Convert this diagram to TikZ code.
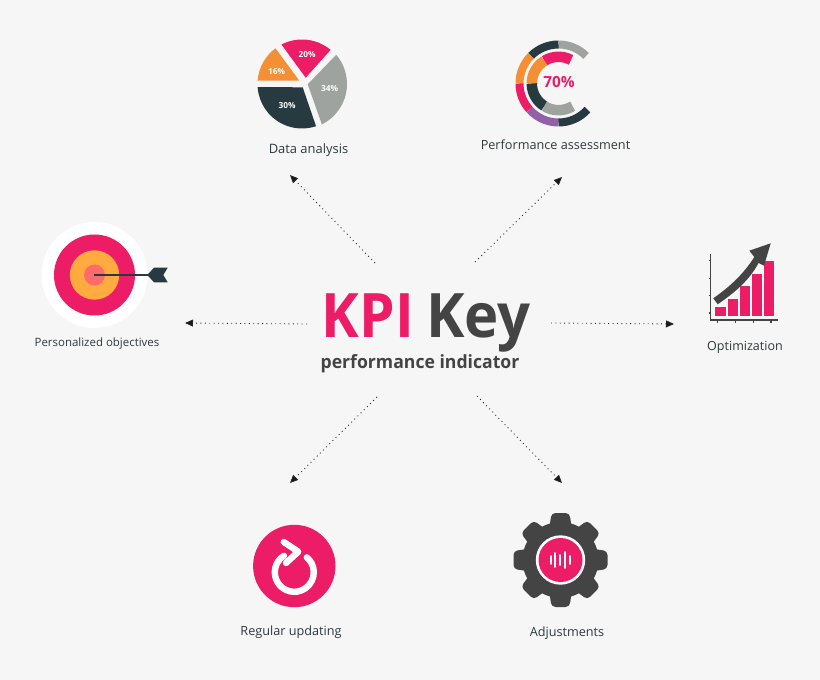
\documentclass[tikz,border=0pt]{standalone}
\usepackage{fontspec}
\setmainfont{Open Sans}
\usetikzlibrary{arrows.meta}
\definecolor{bgc}{HTML}{F6F6F6}
\definecolor{pinkc}{HTML}{ED1C67}
\definecolor{darkc}{HTML}{263A40}
\definecolor{orangec}{HTML}{F58F35}
\definecolor{greyc}{HTML}{9FA3A0}
\definecolor{purplec}{HTML}{9160A8}
\definecolor{goldc}{HTML}{FFAB40}
\definecolor{coralc}{HTML}{FF6B6B}
\definecolor{textc}{HTML}{444444}
\definecolor{labelc}{HTML}{2E3A3E}
\newcommand{\pxfont}[1]{\fontsize{#1}{#1}\selectfont}
\newcommand{\wedgeshape}[5]{% colour, apex, a1, a2 (visual, ccw), radius about pie centre
  \fill[#1] (#2) -- ([shift={(0-#3:#5)}]302,84) arc[start angle=0-#3,end angle=0-#4,radius=#5] -- cycle;}
\newcommand{\ringseg}[5]{% colour, a1, a2, r mid, width
  \draw[#1,line width=#5*.75pt] ([shift={(0-#2:#4)}]558.5,83.5) arc[start angle=0-#2,end angle=0-#3,radius=#4];}
\tikzset{
  flow/.style={draw=black!85,line width=.65pt,dash pattern=on .7pt off 2.6pt,
    -{Triangle[length=6pt,width=5.2pt,fill=black!90]}},
  iconlabel/.style={text=labelc,font=\pxfont{9.5pt},inner sep=0pt,anchor=center},
  pct/.style={text=white,font=\bfseries\pxfont{6.2pt},inner sep=0pt},
  axisline/.style={draw=textc,line width=1pt},
  chartbar/.style={fill=pinkc,draw=white,line width=.4pt},
  wave/.style={draw=white,line width=1.3pt,line cap=round},
}
\begin{document}
\begin{tikzpicture}[x=.75pt,y=-.75pt]
\useasboundingbox[fill=bgc] (0,0) rectangle (820,680);

% central title
\node[inner sep=0pt,anchor=base west,text=pinkc,font=\bfseries\pxfont{46pt}] (kpi) at (321.5,338) {\scalebox{.925}[1]{KPI}};
\node[inner sep=0pt,anchor=base west,text=textc,font=\bfseries\pxfont{46pt}] (key) at (426,338) {\scalebox{.945}[1]{Key}};
\node[inner sep=0pt,text=textc,font=\bfseries\pxfont{13.7pt}] (sub) at (420,364) {\scalebox{.965}[1]{performance indicator}};

% arrows
\coordinate (a1s) at (375,263); \coordinate (a1e) at (290,175);
\coordinate (a2s) at (475,262); \coordinate (a2e) at (562,177);
\coordinate (a3s) at (307,324); \coordinate (a3e) at (185,323);
\coordinate (a4s) at (551,323); \coordinate (a4e) at (674,324);
\coordinate (a5s) at (377,397); \coordinate (a5e) at (290,483);
\coordinate (a6s) at (477,396); \coordinate (a6e) at (562,483);
\draw[flow] (a1s) -- (a1e);
\draw[flow] (a2s) -- (a2e);
\draw[flow] (a3s) -- (a3e);
\draw[flow] (a4s) -- (a4e);
\draw[flow] (a5s) -- (a5e);
\draw[flow] (a6s) -- (a6e);

% pie chart
\wedgeshape{pinkc}{305.7,77.7}{50}{117.5}{44.5}
\wedgeshape{orangec}{299.3,80.7}{126.6}{175.7}{44.5}
\wedgeshape{darkc}{302.7,87.3}{184}{288.4}{44.5}
\wedgeshape{greyc}{307.7,84.3}{-63.8}{40.5}{45}
\node[pct] (p20) at (307,55) {20\%};
\node[pct] (p16) at (276.5,72) {16\%};
\node[pct] (p30) at (287,105.5) {30\%};
\node[pct] (p34) at (329.5,89) {34\%};
\node[iconlabel,font=\pxfont{9.7pt}] (t1) at (308.5,150.5) {Data analysis};

% donut
\ringseg{greyc}{45}{90}{39}{8}
\ringseg{darkc}{90}{135}{39}{8}
\ringseg{orangec}{135}{180}{39}{8}
\ringseg{pinkc}{180}{222}{39}{8}
\ringseg{purplec}{222}{270}{39}{8}
\ringseg{darkc}{270}{318}{39}{8}
\ringseg{pinkc}{62}{122}{26.7}{10.5}
\ringseg{orangec}{122}{180}{26.7}{10.5}
\ringseg{darkc}{180}{238}{26.7}{10.5}
\ringseg{greyc}{238}{302}{26.7}{10.5}
\node[inner sep=0pt,text=pinkc,font=\bfseries\pxfont{11.5pt}] (p70) at (559,82) {70\%};
\node[iconlabel] (t2) at (555.5,144.5) {Performance assessment};

% target
\fill[white] (94.5,275) circle[radius=53];
\fill[pinkc] (94.5,275) circle[radius=40.5];
\fill[goldc] (94.5,275) circle[radius=24.7];
\fill[coralc] (94.5,275) circle[radius=10.5];
\draw[darkc,line width=1.3pt] (94,275) -- (148,275);
\fill[darkc] (147.3,275) -- (154,267.7) -- (167.7,267.7) -- (163.3,275) -- (167.7,282.3) -- (154,282.3) -- cycle;
\node[iconlabel,font=\pxfont{8.6pt}] (t3) at (97,344) {Personalized objectives};

% growth chart
\draw[axisline] (710.7,254) -- (710.7,320) -- (777.7,320);
\foreach \yy in {260.7,278.3,295.7,313} \draw[axisline] (708.5,\yy) -- (711,\yy);
\foreach \xx in {717.7,735.7,753.3,771} \draw[axisline] (\xx,320) -- (\xx,323);
\draw[chartbar] (714.7,306.4) rectangle (726.2,316.3);
\draw[chartbar] (726.8,298) rectangle (738.2,316.3);
\draw[chartbar] (738.8,285.4) rectangle (750.5,316.3);
\draw[chartbar] (751,273) rectangle (762.2,316.3);
\draw[chartbar] (762.8,260.7) rectangle (774.3,316.3);
\fill[textc] (713.3,298.3) .. controls (728,288) and (743,275) .. (754.3,257)
  -- (749.3,250.7) -- (770.7,243.3) -- (764,265.7) -- (758.5,263)
  .. controls (749,281) and (734,293) .. (717.7,304.3) -- cycle;
\node[iconlabel,font=\pxfont{9.4pt}] (t4) at (745,347.5) {Optimization};

% refresh
\fill[pinkc] (294.3,566) circle[radius=41.2];
\draw[white,line width=4.8pt,line cap=round] ([shift={(0-122:19.5)}]294.3,572.3) arc[start angle=0-122,end angle=-410,radius=19.5];
\draw[white,line width=4.8pt,line cap=round,line join=round] (283.8,542) -- (298.3,551.7) -- (286,563);
\node[iconlabel] (t5) at (291,632.5) {Regular updating};

% gear
\fill[textc] (560.5,560) circle[radius=38];
\foreach \ang in {0,45,...,315}
  \fill[textc,rotate around={\ang:(560.5,560)},rounded corners=3pt] (549,530) -- (551.5,513) -- (569.5,513) -- (572,530) -- cycle;
\fill[white] (560.5,560) circle[radius=24.7];
\fill[pinkc] (560.5,560) circle[radius=22];
\foreach \xx/\hh in {550.7/4,555/7,560/5,565/8,570/4}
  \draw[wave] (\xx,560-\hh) -- (\xx,560+\hh);
\node[iconlabel] (t6) at (567,633.5) {Adjustments};
\end{tikzpicture}
\end{document}
